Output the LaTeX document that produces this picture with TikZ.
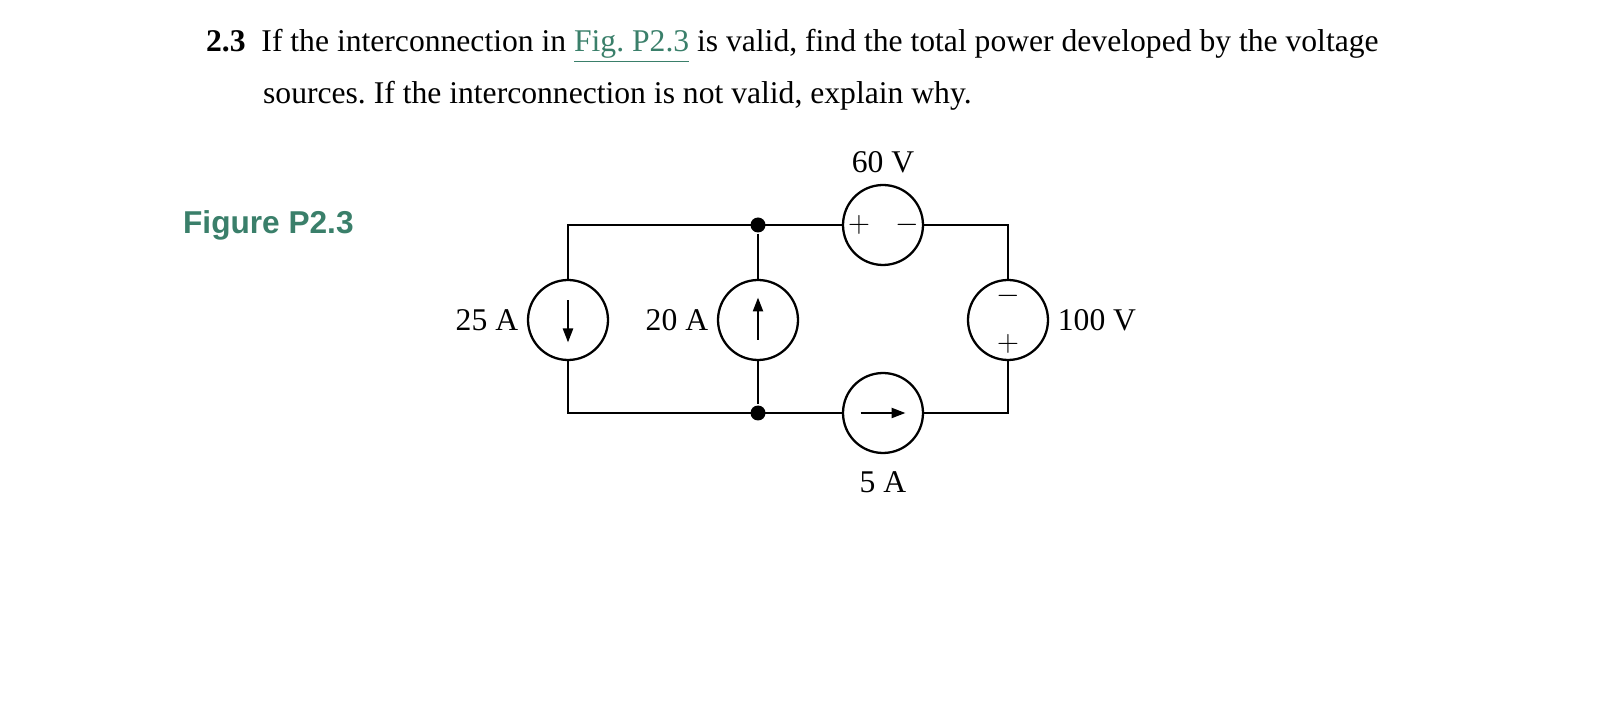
\documentclass[tikz,border=0pt]{standalone}
\usepackage{fontspec}
\setmainfont{Liberation Serif}
\newfontfamily\figfont{Liberation Sans}
\usetikzlibrary{arrows.meta}
\definecolor{figgreen}{HTML}{3A7F6A}
\frenchspacing
\begin{document}
\begin{tikzpicture}[x=0.02cm,y=-0.02cm,line width=1.3pt,
  src/.style={circle,draw,minimum size=1.6cm,inner sep=0pt,fill=white},
  dot/.style={circle,fill,inner sep=0pt,minimum size=0.3cm},
  lbl/.style={font=\fontsize{18}{21}\selectfont},
  arr/.style={-{Triangle[length=0.28cm,width=0.2cm]},line width=1.3pt}]
  \useasboundingbox (0,0) rectangle (1614,719);

  \node[anchor=base west,lbl,inner sep=0pt] (q1) at (205,52)
    {\textbf{2.3}\ \ If the interconnection in \textcolor{figgreen}{\underline{Fig.~P2.3}} is valid, find the total power developed by the voltage};
  \node[anchor=base west,lbl,inner sep=0pt] (q2) at (262,104)
    {sources. If the interconnection is not valid, explain why.};
  \node[anchor=west,inner sep=0pt,text=figgreen,font=\figfont\bfseries\fontsize{18}{21}\selectfont] (fig) at (182,225) {Figure P2.3};

  % corners and junctions
  \coordinate (tl) at (568,225);
  \coordinate (bl) at (568,413);
  \coordinate (tr) at (1008,225);
  \coordinate (br) at (1008,413);
  \node[dot] (jt) at (758,225) {};
  \node[dot] (jb) at (758,413) {};

  \draw (tl) -- (tr) -- (br) -- (bl) -- cycle;
  \draw (jt) -- (jb);

  % sources
  \node[src] (i25) at (568,320) {};
  \node[src] (i20) at (758,320) {};
  \node[src] (v60) at (883,225) {};
  \node[src] (i5) at (883,413) {};
  \node[src] (v100) at (1008,320) {};

  \draw[arr] ([yshift=0.4cm]i25.center) -- ([yshift=-0.45cm]i25.center);
  \draw[arr] ([yshift=-0.4cm]i20.center) -- ([yshift=0.45cm]i20.center);
  \draw[arr] ([xshift=-0.45cm]i5.center) -- ([xshift=0.45cm]i5.center);
  \node[lbl] at ([xshift=-0.48cm]v60.center) {$+$};
  \node[lbl] at ([xshift=0.48cm]v60.center) {$-$};
  \node[lbl] at ([yshift=0.48cm]v100.center) {$-$};
  \node[lbl] at ([yshift=-0.48cm]v100.center) {$+$};

  \node[lbl,left=1pt] at (i25.west) {25 A};
  \node[lbl,left=1pt] at (i20.west) {20 A};
  \node[lbl,above=2pt] at (v60.north) {60 V};
  \node[lbl,below=6pt] at (i5.south) {5 A};
  \node[lbl,right=1pt] at (v100.east) {100 V};
\end{tikzpicture}
\end{document}
